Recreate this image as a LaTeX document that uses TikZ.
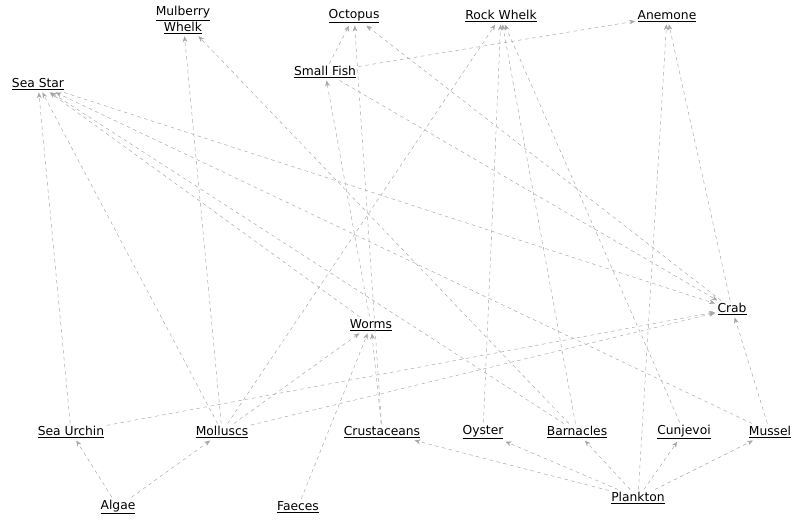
\documentclass[tikz,border=0pt]{standalone}
\usepackage{fontspec}
\setmainfont{DejaVu Sans}
\usetikzlibrary{arrows.meta}

\tikzset{
    species/.style={inner sep=2pt, font=\fontsize{10.5}{12}\selectfont, align=center},
    eats/.style={-{Stealth[length=5pt,width=4pt]}, dashed, gray!70, thin}
}
\newcommand{\spname}[1]{\underline{#1}}

\begin{document}
\begin{tikzpicture}[x=0.3mm, y=-0.3mm]
    \useasboundingbox (0,0) rectangle (800,523);
    % top row
    \node[species] (mulberry) at (183,20) {\spname{Mulberry}\\\spname{Whelk}};
    \node[species] (octopus) at (354,16) {\spname{Octopus}};
    \node[species] (rockwhelk) at (501,16) {\spname{Rock Whelk}};
    \node[species] (anemone) at (667,16) {\spname{Anemone}};
    \node[species] (smallfish) at (325,72) {\spname{Small Fish}};
    \node[species] (seastar) at (38,84) {\spname{Sea Star}};
    % middle
    \node[species] (crab) at (732,309) {\spname{Crab}};
    \node[species] (worms) at (371,325) {\spname{Worms}};
    % lower row
    \node[species] (urchin) at (71,432) {\spname{Sea Urchin}};
    \node[species] (molluscs) at (222,432) {\spname{Molluscs}};
    \node[species] (crust) at (382,432) {\spname{Crustaceans}};
    \node[species] (oyster) at (483,432) {\spname{Oyster}};
    \node[species] (barnacles) at (577,432) {\spname{Barnacles}};
    \node[species] (cunjevoi) at (684,432) {\spname{Cunjevoi}};
    \node[species] (mussel) at (770,432) {\spname{Mussel}};
    % bottom
    \node[species] (algae) at (118,507) {\spname{Algae}};
    \node[species] (faeces) at (298,507) {\spname{Faeces}};
    \node[species] (plankton) at (638,498) {\spname{Plankton}};

    \foreach \a/\b in {algae/urchin, algae/molluscs, faeces/worms,
        plankton/crust, plankton/oyster, plankton/barnacles, plankton/cunjevoi,
        plankton/mussel, plankton/anemone,
        urchin/seastar, urchin/crab,
        molluscs/seastar, molluscs/mulberry, molluscs/rockwhelk, molluscs/worms, molluscs/crab,
        crust/octopus, crust/worms,
        worms/smallfish, worms/seastar,
        barnacles/seastar, barnacles/rockwhelk, barnacles/mulberry,
        oyster/rockwhelk, cunjevoi/rockwhelk,
        mussel/crab, mussel/seastar,
        seastar/crab,
        crab/octopus, crab/anemone,
        smallfish/octopus, smallfish/anemone, smallfish/crab}
        \draw[eats] (\a) -- (\b);
\end{tikzpicture}
\end{document}
